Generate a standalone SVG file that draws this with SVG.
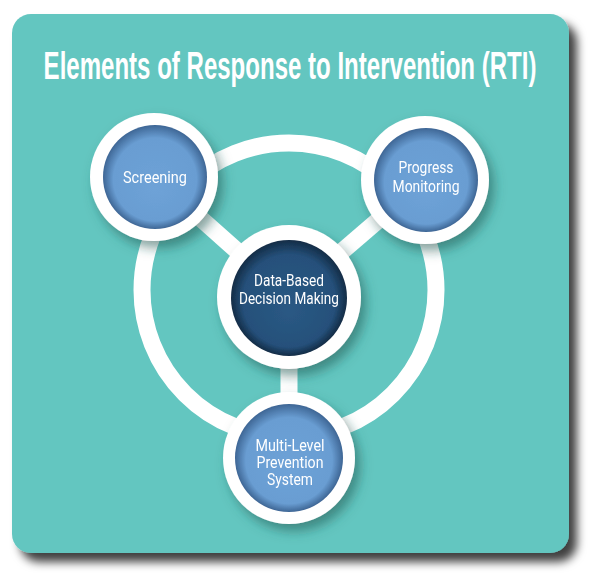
<svg xmlns="http://www.w3.org/2000/svg" width="603" height="587" viewBox="0 0 603 587">
<style>
.lbl{font-family:Roboto,"Liberation Sans",sans-serif;font-size:17px;fill:#ffffff;text-anchor:middle}
.ring{fill:#ffffff}
.conn{stroke:#ffffff;fill:none;stroke-width:17}
</style>
<defs>
<filter id="cardShadow" x="-10%" y="-10%" width="125%" height="125%">
<feDropShadow dx="8" dy="9" stdDeviation="5" flood-color="#000000" flood-opacity="0.75"/>
</filter>
<filter id="nodeShadow" x="-30%" y="-30%" width="170%" height="170%">
<feDropShadow dx="5" dy="7" stdDeviation="6" flood-color="#1a5450" flood-opacity="0.55"/>
</filter>
<radialGradient id="blueGrad" cx="0.5" cy="0.5" r="0.5" fx="0.5" fy="0.62">
<stop offset="0" stop-color="#6EA2D7"/>
<stop offset="0.8" stop-color="#699DD2"/>
<stop offset="1" stop-color="#3E6695"/>
</radialGradient>
<radialGradient id="darkGrad" cx="0.5" cy="0.5" r="0.5" fx="0.5" fy="0.62">
<stop offset="0" stop-color="#2A5984"/>
<stop offset="0.8" stop-color="#25507A"/>
<stop offset="1" stop-color="#132C46"/>
</radialGradient>
</defs>
<rect x="12" y="14" width="557" height="539" rx="19" fill="#64C6C0" filter="url(#cardShadow)"/>
<g transform="translate(290,79) scale(0.616,1)">
<text x="0" y="0" font-family="'Liberation Sans',Arial,sans-serif" font-weight="bold" font-size="39" fill="#ffffff" text-anchor="middle" textLength="800" lengthAdjust="spacingAndGlyphs">Elements of Response to Intervention (RTI)</text>
</g>
<g id="connectors">
<circle class="conn" cx="289" cy="290" r="147"/>
<line class="conn" x1="154" y1="177" x2="289" y2="297"/>
<line class="conn" x1="425" y1="180" x2="289" y2="297"/>
<line class="conn" x1="289" y1="458" x2="289" y2="297"/>
</g>
<g id="screening" filter="url(#nodeShadow)">
<circle class="ring" cx="154" cy="177" r="64"/>
<circle cx="155" cy="177" r="52" fill="url(#blueGrad)"/>
<text class="lbl" x="155" y="183" textLength="64" lengthAdjust="spacingAndGlyphs">Screening</text>
</g>
<g id="progress" filter="url(#nodeShadow)">
<circle class="ring" cx="425" cy="180" r="64"/>
<circle cx="426" cy="180" r="52" fill="url(#blueGrad)"/>
<text class="lbl" x="426" y="173" textLength="55" lengthAdjust="spacingAndGlyphs">Progress</text>
<text class="lbl" x="426" y="192" textLength="67" lengthAdjust="spacingAndGlyphs">Monitoring</text>
</g>
<g id="multilevel" filter="url(#nodeShadow)">
<circle class="ring" cx="289" cy="458" r="66"/>
<circle cx="289" cy="458" r="54" fill="url(#blueGrad)"/>
<text class="lbl" x="290" y="451" textLength="69" lengthAdjust="spacingAndGlyphs">Multi-Level</text>
<text class="lbl" x="290" y="468" textLength="67" lengthAdjust="spacingAndGlyphs">Prevention</text>
<text class="lbl" x="290" y="485" textLength="46" lengthAdjust="spacingAndGlyphs">System</text>
</g>
<g id="decision" filter="url(#nodeShadow)">
<circle class="ring" cx="289" cy="297" r="72"/>
<circle cx="289" cy="298" r="58" fill="url(#darkGrad)"/>
<text class="lbl" x="289" y="286" textLength="70" lengthAdjust="spacingAndGlyphs">Data-Based</text>
<text class="lbl" x="289" y="304" textLength="100" lengthAdjust="spacingAndGlyphs">Decision Making</text>
</g>
</svg>
